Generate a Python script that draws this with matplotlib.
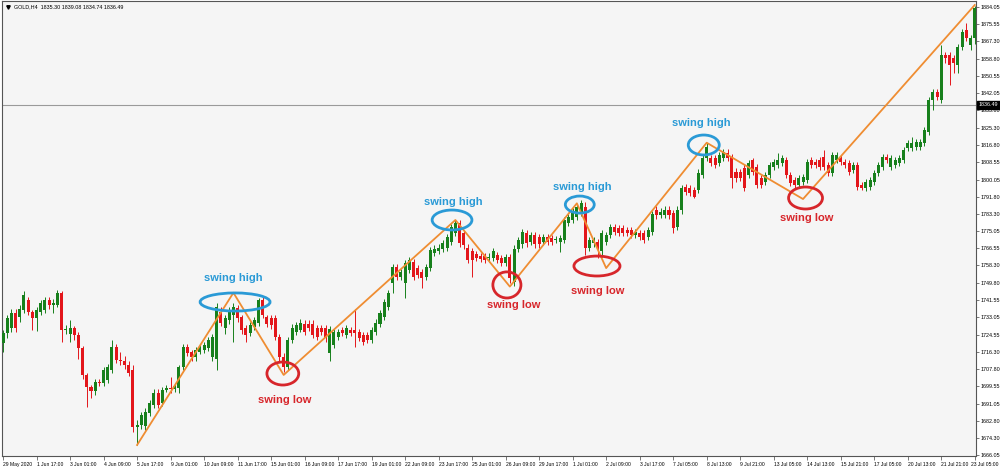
import numpy as np
import matplotlib.pyplot as plt
from matplotlib.patches import Ellipse
from matplotlib.transforms import blended_transform_factory, ScaledTranslation

# GOLD H4 candles, 29 May 2020 09:00 .. 23 Jul 2020 05:00
opens = [
    1720.5, 1725.5, 1728, 1735, 1733, 1736.5, 1741.5, 1735.5, 1732.5, 1735.5,
    1736.5, 1741.5, 1739, 1739, 1745, 1727, 1725, 1728, 1724.5, 1718,
    1705, 1699, 1697, 1701.5, 1701, 1702.5, 1707.5, 1718.5, 1712.5, 1712,
    1710, 1707.5, 1679.5, 1680.5, 1680, 1686.5, 1690.5, 1696, 1691.5, 1697.5,
    1698.5, 1698, 1698.5, 1709, 1718.5, 1716, 1713.5, 1716, 1717, 1718,
    1713.5, 1713, 1735.5, 1728, 1731.5, 1734, 1737.5, 1733, 1728, 1725.5,
    1728.5, 1730.5, 1741.5, 1733, 1732.5, 1732.5, 1723.5, 1713.5, 1709, 1722,
    1726, 1727, 1730, 1730, 1730, 1728, 1728, 1728, 1715.5, 1719.5,
    1723.5, 1727, 1724.5, 1727, 1727, 1726, 1724.5, 1724.5, 1722, 1726,
    1730, 1733, 1738, 1749.5, 1757.5, 1752.5, 1749.5, 1756, 1760, 1757,
    1755, 1752.5, 1757, 1764.5, 1765.5, 1766.5, 1767, 1769.5, 1774, 1779,
    1774, 1767, 1765.5, 1764, 1763, 1763, 1762, 1762, 1763.5, 1762,
    1759.5, 1762.5, 1750, 1766.5, 1768.5, 1774, 1769.5, 1773, 1772, 1769.5,
    1772, 1771.5, 1770.5, 1769.5, 1770.5, 1779, 1780.5, 1782, 1784, 1786.5,
    1767, 1769, 1769.5, 1765.5, 1769.5, 1773, 1777, 1776.5, 1776.5, 1775.5,
    1775.5, 1773, 1774, 1774, 1772, 1774.5, 1785.3, 1782.8, 1782.8, 1785.3,
    1783.8, 1777, 1785.3, 1796.5, 1796, 1795, 1795, 1802.3, 1810.6, 1810.6,
    1810.6, 1808, 1810.5, 1813, 1811, 1803.8, 1803.8, 1805.7, 1802.3, 1809.6,
    1806.2, 1800.8, 1798.9, 1802.3, 1806.2, 1807.2, 1808.1, 1809.6, 1802.3, 1799.9,
    1797.4, 1798.9, 1799.9, 1809.6, 1808.6, 1809.6, 1811, 1807.2, 1803.3, 1809.6,
    1810.6, 1808.6, 1808.1, 1804.7, 1807.2, 1797.4, 1795.9, 1796.4, 1798.9, 1803.3,
    1806.2, 1811, 1806.2, 1807.2, 1808.1, 1809.6, 1815.5, 1815.5, 1816, 1816,
    1817.9, 1823.2, 1838.8, 1842.7, 1838.8, 1860.7, 1860.7, 1859.2, 1855.8, 1864.6,
    1872.9, 1865.5, 1869,
]
closes = [
    1725.5, 1732.5, 1735, 1728, 1737, 1744, 1735.5, 1732.5, 1736.5, 1740,
    1741.5, 1739, 1740, 1745, 1727, 1727.5, 1728, 1724.5, 1718, 1705,
    1699, 1697, 1701.5, 1701, 1707.5, 1709, 1718.5, 1712.5, 1712, 1710,
    1706, 1679.5, 1680.5, 1685.5, 1687, 1691.5, 1696, 1690.5, 1697.5, 1698.5,
    1698, 1699.5, 1709, 1718.5, 1715.5, 1713.5, 1717, 1718.5, 1719.5, 1722,
    1723.5, 1738, 1730.5, 1732.5, 1736.5, 1738, 1732.5, 1727, 1724.5, 1729.5,
    1731.5, 1741.5, 1734, 1730, 1729.5, 1723.5, 1713.5, 1709, 1722, 1728,
    1729.5, 1730.5, 1726, 1728, 1724.5, 1723.5, 1726, 1723, 1727.5, 1726,
    1726, 1725.5, 1728, 1725.5, 1725.5, 1723, 1721, 1722, 1727, 1730.5,
    1735, 1740.5, 1745, 1757.5, 1752.5, 1755, 1759.5, 1761, 1752.5, 1753.5,
    1752, 1757.5, 1766, 1766.5, 1767, 1769, 1772, 1777, 1779, 1769,
    1768, 1761, 1761, 1762, 1761.5, 1761, 1762.5, 1765.5, 1761, 1759.5,
    1762.5, 1752, 1766.5, 1770.5, 1774.5, 1769, 1773, 1768.5, 1768.5, 1772,
    1769.5, 1769.5, 1771, 1771.5, 1780.5, 1782, 1784.5, 1786.5, 1788.5, 1767,
    1770.5, 1770.5, 1767, 1774, 1773, 1777, 1774.5, 1774, 1774, 1774,
    1773, 1774.5, 1772, 1770.5, 1775.5, 1783.5, 1782.8, 1784.3, 1785.3, 1782.8,
    1776.5, 1785.3, 1796, 1794, 1793.5, 1791.5, 1803.3, 1810.6, 1816, 1808.1,
    1807.2, 1812, 1813.5, 1810.5, 1800.8, 1800.8, 1800.8, 1796, 1808, 1803.8,
    1797.4, 1797.4, 1802.3, 1807.2, 1808.6, 1809.6, 1810.6, 1802.3, 1798.4, 1797.4,
    1800.8, 1801.3, 1808.6, 1807.2, 1807.2, 1806.2, 1806.2, 1803.3, 1812, 1812,
    1808.6, 1807.2, 1803.8, 1807.2, 1796.5, 1795.9, 1798.9, 1799.9, 1803.3, 1807.2,
    1811, 1809.6, 1810.6, 1809.6, 1810.6, 1814.5, 1817.9, 1817.9, 1818.4, 1818.4,
    1824.2, 1838.8, 1842.7, 1840.2, 1860.7, 1859.2, 1855.8, 1856.8, 1864.6, 1871.9,
    1869, 1869, 1883.6,
]
highs = [
    1727, 1734, 1737, 1737, 1739, 1746, 1743, 1736.5, 1738, 1741.5,
    1743, 1743, 1742, 1746.5, 1746, 1729.5, 1731.5, 1729, 1726, 1719,
    1706, 1700, 1703, 1703, 1709, 1710.5, 1722, 1720, 1716, 1714,
    1712, 1710, 1683, 1687, 1689, 1693, 1698, 1698, 1699, 1700,
    1704, 1701, 1710, 1720, 1720, 1717, 1718.5, 1720, 1721, 1723.5,
    1725, 1740, 1738, 1734, 1738, 1740, 1739, 1734, 1729.5, 1731,
    1733, 1742.5, 1743, 1734, 1734, 1734, 1725, 1715.5, 1723.5, 1730,
    1731, 1732, 1731.5, 1731.5, 1731.5, 1729.5, 1729.5, 1729.5, 1729, 1727.5,
    1727.5, 1728.5, 1729.5, 1728.5, 1737, 1727.5, 1726, 1726, 1728.5, 1732,
    1736.5, 1742, 1746.5, 1759, 1759, 1756.5, 1761, 1762.5, 1761.5, 1758.5,
    1756.5, 1759, 1767.5, 1768, 1768.5, 1770.5, 1773.5, 1778.5, 1780.4, 1780.5,
    1775.5, 1768.5, 1767, 1765.5, 1764.5, 1764.5, 1764.5, 1767, 1765, 1763.5,
    1764, 1764, 1768, 1772, 1776, 1775.5, 1774.5, 1774.5, 1773.5, 1773.5,
    1773.5, 1773, 1772.5, 1773, 1782, 1783.5, 1786, 1788, 1790, 1789,
    1772, 1772, 1771, 1775.5, 1774.5, 1778.5, 1778.5, 1778, 1778, 1777,
    1777, 1776, 1775.5, 1775.5, 1777, 1785, 1787, 1786, 1787, 1787,
    1785.5, 1787, 1797.5, 1798, 1797.5, 1796.5, 1805, 1812, 1818, 1812,
    1812, 1813.5, 1815, 1815, 1812.5, 1805.5, 1805, 1807.5, 1809.5, 1810.6,
    1807.5, 1802.3, 1803.8, 1808.5, 1810, 1813, 1812, 1811, 1803.8, 1801.3,
    1802.3, 1802.8, 1810, 1811, 1810, 1811, 1814.5, 1808.6, 1813.5, 1813.5,
    1812, 1810, 1809.6, 1808.6, 1808.6, 1798.9, 1800.4, 1801.3, 1804.7, 1808.6,
    1812.5, 1812.5, 1812, 1811, 1812, 1816, 1819.3, 1821, 1819.8, 1819.8,
    1825.7, 1840.2, 1844.2, 1844.2, 1865.5, 1862.2, 1862.2, 1860.7, 1866, 1873.4,
    1876.3, 1870.4, 1884.5,
]
lows = [
    1716, 1723, 1726, 1726, 1731, 1735, 1734, 1727, 1726.5, 1734,
    1735, 1737, 1735, 1738, 1721, 1725, 1721, 1722, 1713, 1703,
    1689.5, 1694, 1695, 1699.5, 1699.5, 1701, 1706, 1711, 1710, 1708,
    1704.5, 1677, 1670.9, 1678.5, 1678, 1685, 1689, 1689, 1690, 1696.5,
    1696, 1696.5, 1696, 1707.5, 1714, 1712, 1712, 1715, 1715.5, 1716.5,
    1712, 1707.5, 1729, 1725, 1730, 1721, 1731, 1725, 1721, 1724,
    1727, 1729, 1732.5, 1728.5, 1727.5, 1722, 1712, 1706.5, 1707.5, 1720.5,
    1724.5, 1726, 1724.5, 1726.5, 1723, 1722, 1724.5, 1721, 1712, 1718,
    1722, 1724, 1723, 1724, 1718.5, 1721.5, 1719.5, 1720.5, 1720.5, 1724.5,
    1728.5, 1731.5, 1736.5, 1745, 1751, 1751, 1742.5, 1754.5, 1751, 1752,
    1747.5, 1751, 1755.5, 1763, 1764, 1765, 1765.5, 1768, 1772.5, 1767.5,
    1766.5, 1759.5, 1752.5, 1760.5, 1760, 1759.5, 1760, 1760.5, 1759.5, 1758,
    1758, 1749.5, 1748.5, 1765, 1767, 1767.5, 1768, 1767, 1767, 1768,
    1768, 1768, 1769, 1765, 1769, 1777.5, 1779, 1780.5, 1782.5, 1763.5,
    1765.5, 1767.5, 1762, 1762.5, 1768, 1771.5, 1773, 1772.5, 1772.5, 1772.5,
    1771.5, 1771.5, 1770.5, 1769, 1770.5, 1773, 1781, 1781.5, 1781.5, 1781,
    1774, 1775.5, 1783.5, 1792.5, 1792, 1791, 1793.5, 1801, 1809, 1806.5,
    1805.5, 1806.5, 1809, 1809, 1796, 1799, 1799.3, 1794.5, 1800.8, 1802.3,
    1796, 1796, 1797.4, 1800.8, 1804.7, 1805.7, 1806.7, 1800.8, 1796.9, 1795.9,
    1795.9, 1797.4, 1798.4, 1805.7, 1805.7, 1804.7, 1804.7, 1801.8, 1801.8, 1808,
    1807.2, 1805.7, 1802.3, 1803.3, 1795, 1795, 1794.5, 1795, 1797.4, 1801.8,
    1804.7, 1808.1, 1804.7, 1805.7, 1806.7, 1808.1, 1814, 1814, 1814.5, 1814.5,
    1816.4, 1821.8, 1834, 1838.8, 1837.3, 1856.8, 1846.1, 1851.9, 1852, 1863.1,
    1867.5, 1863.1, 1866,
]

time_labels = [
    "29 May 2020", "1 Jun 17:00", "3 Jun 01:00", "4 Jun 09:00", "5 Jun 17:00",
    "9 Jun 01:00", "10 Jun 09:00", "11 Jun 17:00", "15 Jun 01:00", "16 Jun 09:00",
    "17 Jun 17:00", "19 Jun 01:00", "22 Jun 09:00", "23 Jun 17:00", "25 Jun 01:00",
    "26 Jun 09:00", "29 Jun 17:00", "1 Jul 01:00", "2 Jul 09:00", "3 Jul 17:00",
    "7 Jul 05:00", "8 Jul 13:00", "9 Jul 21:00", "13 Jul 05:00", "14 Jul 13:00",
    "15 Jul 21:00", "17 Jul 05:00", "20 Jul 13:00", "21 Jul 21:00", "23 Jul 05:00",
]
price_ticks = [
    1884.05, 1875.55, 1867.30, 1858.80, 1850.55, 1842.05, 1833.80, 1825.30, 1816.80,
    1808.55, 1800.05, 1791.80, 1783.30, 1775.05, 1766.55, 1758.30, 1749.80, 1741.55,
    1733.05, 1724.55, 1716.30, 1707.80, 1699.55, 1691.05, 1682.80, 1674.30, 1666.05,
]
last_price = 1836.49
header = "GOLD,H4  1835.30 1839.08 1834.74 1836.49"

# zigzag through the swing points
zz_idx = [32, 55, 67, 108, 121, 137, 144, 168, 191, 232]
zz_price = [1670.9, 1745.0, 1705.0, 1780.4, 1748.0, 1788.5, 1757.0, 1818.0, 1790.6, 1885.0]

# swing markers: kind, centre (candle, price), label position
swing_kind = ["high", "low", "high", "low", "high", "low", "high", "low"]
swing_idx = [55.4, 66.8, 107.2, 120.3, 137.7, 141.8, 167.3, 191.6]
swing_price = [1740.5, 1705.7, 1780.4, 1748.8, 1787.9, 1758.0, 1816.9, 1791.1]
swing_w = [16.7, 7.6, 9.5, 6.7, 6.9, 11.0, 7.4, 8.1]
swing_h = [8.8, 11.2, 9.7, 12.7, 8.3, 9.7, 9.7, 10.7]
label_idx = [54.9, 67.3, 107.5, 122.0, 138.4, 142.0, 166.8, 191.9]
label_price = [1752.2, 1692.8, 1789.2, 1739.0, 1796.5, 1745.8, 1827.6, 1781.4]

UP = "#17801c"
DOWN = "#e3161b"
BLUE = "#2a9ad6"
RED = "#d7262b"
ORANGE = "#ef8d32"
SMALL = ["Liberation Sans Narrow", "Liberation Sans", "DejaVu Sans"]

plt.rcParams["font.family"] = ["Liberation Sans", "DejaVu Sans"]

fig = plt.figure(figsize=(10, 4.68), dpi=100, facecolor="white")
ax = fig.add_axes([0.002, 12 / 468, 0.974, 455 / 468])
ax.set_facecolor("#f5f5f5")

o = np.array(opens)
c = np.array(closes)
h = np.array(highs)
lo = np.array(lows)
idx = np.arange(len(o))
cols = np.where(c >= o, UP, DOWN)

ax.vlines(idx, lo, h, colors=cols, lw=0.7, zorder=2)
body = np.maximum(np.abs(c - o), 0.35)
ax.bar(idx, body, bottom=np.minimum(o, c), width=0.72, color=cols, lw=0, zorder=3)

ax.axhline(last_price, color="#9a9a9a", lw=0.8, zorder=1)

ax.plot(zz_idx, zz_price, color=ORANGE, lw=1.3, zorder=4)

for kind, xi, yp, w, hh, lx, ly in zip(swing_kind, swing_idx, swing_price, swing_w,
                                       swing_h, label_idx, label_price):
    col = BLUE if kind == "high" else RED
    ax.add_patch(Ellipse((xi, yp), w, hh, fill=False, ec=col, lw=2.0, zorder=5))
    ax.text(lx, ly, f"swing {kind}", color=col, fontsize=8, fontweight="bold",
            ha="center", va="center", zorder=6)

ax.set_xlim(-0.25, 232.3)
ax.set_ylim(1665.56, 1886.96)

ax.set_xticks(np.arange(0, len(o), 8))
ax.set_xticklabels(time_labels, fontsize=3.6, ha="left", family=SMALL)
ax.tick_params(axis="x", length=3, width=0.5, pad=1, color="#444444")
# last date label sits under the price scale, pull it left so it stays inside
last_lbl = ax.get_xticklabels()[-1]
last_lbl.set_transform(last_lbl.get_transform()
                       + ScaledTranslation(-3 / 72, 0, fig.dpi_scale_trans))

ax.yaxis.tick_right()
ax.set_yticks(price_ticks)
ax.set_yticklabels([f"{v:.2f}" for v in price_ticks], fontsize=3.9, family=SMALL)
ax.tick_params(axis="y", length=2, width=0.5, pad=1.2, color="#444444")

for s in ax.spines.values():
    s.set_color("#555555")
    s.set_linewidth(0.8)

tr = blended_transform_factory(ax.transAxes, ax.transData)
ax.text(1.003, last_price, f"{last_price:.2f}", transform=tr, fontsize=3.9,
        family=SMALL, color="white", va="center", ha="left",
        bbox=dict(boxstyle="square,pad=0.3", fc="black", ec="black"))

ax.plot([0.006], [0.986], marker="v", ms=2.5, color="black", transform=ax.transAxes)
ax.text(0.012, 0.993, header, transform=ax.transAxes, fontsize=3.9, family=SMALL,
        va="top", ha="left")

fig.savefig("out.png", dpi=100)
